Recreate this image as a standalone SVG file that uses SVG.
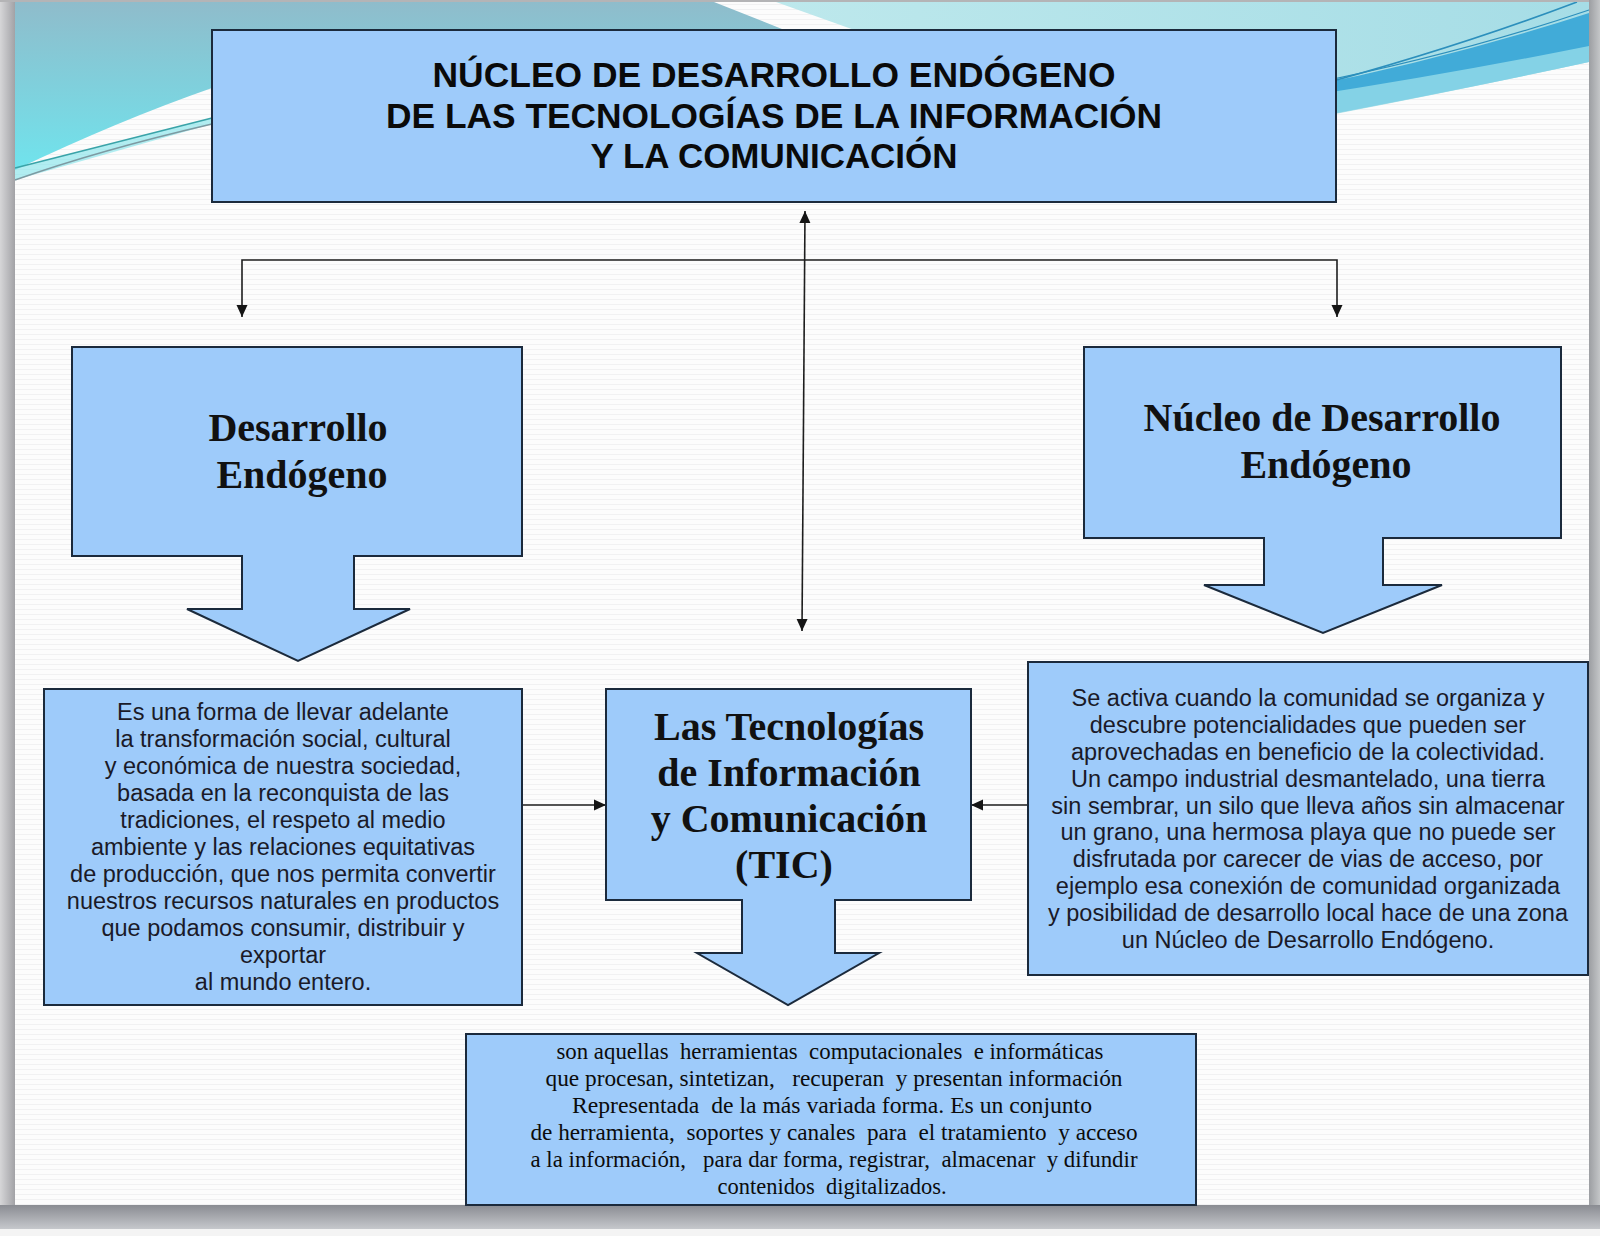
<svg xmlns="http://www.w3.org/2000/svg" width="1600" height="1236" viewBox="0 0 1600 1236">
<style>
.box{fill:#9ecbfa;stroke:#1b2a3c;stroke-width:2}
.conn{fill:none;stroke:#1e1e1e;stroke-width:1.6}
.title{font-family:"Liberation Sans",Arial,sans-serif;font-weight:bold;font-size:35px;fill:#0a0a0a;text-anchor:middle}
.head{font-family:"Liberation Serif","Times New Roman",serif;font-weight:bold;font-size:40px;fill:#111111;text-anchor:middle}
.body{font-family:"Liberation Sans",Arial,sans-serif;font-size:23.5px;fill:#1a1a28;text-anchor:middle}
.serif{font-family:"Liberation Serif","Times New Roman",serif;font-size:24px;fill:#0c0c0c;text-anchor:middle;white-space:pre}
</style>
<defs>
<marker id="ah" markerUnits="userSpaceOnUse" markerWidth="12" markerHeight="12" viewBox="0 0 12 12" refX="12" refY="6" orient="auto-start-reverse">
<path d="M0,0.5 L12,6 L0,11.5 z" fill="#151515"/>
</marker>
<linearGradient id="teal" gradientUnits="userSpaceOnUse" x1="0" y1="2" x2="0" y2="180">
<stop offset="0" stop-color="#8fbccb"/>
<stop offset="1" stop-color="#6ee6ef"/>
</linearGradient>
<linearGradient id="cyanTop" gradientUnits="userSpaceOnUse" x1="776" y1="0" x2="1589" y2="0">
<stop offset="0" stop-color="#bde8ec"/>
<stop offset="1" stop-color="#a6dde6"/>
</linearGradient>
<linearGradient id="leftGray" x1="0" y1="0" x2="1" y2="0">
<stop offset="0" stop-color="#d6d6d8"/>
<stop offset="1" stop-color="#a2a2a6"/>
</linearGradient>
<linearGradient id="rightGray" x1="0" y1="0" x2="1" y2="0">
<stop offset="0" stop-color="#9c9ea2"/>
<stop offset="1" stop-color="#c4c6c8"/>
</linearGradient>
<linearGradient id="bottomGray" x1="0" y1="0" x2="0" y2="1">
<stop offset="0" stop-color="#8a8c92"/>
<stop offset="1" stop-color="#c6c8cc"/>
</linearGradient>
<pattern id="tex" patternUnits="userSpaceOnUse" width="8" height="5">
<rect width="8" height="5" fill="#fcfcfc"/>
<rect y="4" width="8" height="1" fill="#f1f1f2"/>
</pattern>
</defs>

<g id="background">
<rect x="0" y="0" width="1600" height="1236" fill="#f2f2f2"/>
<rect x="15" y="2" width="1574" height="1203" fill="url(#tex)"/>
<path d="M15,2 H714 L792,33 L212,88 Q120,120 15,170 Z" fill="url(#teal)"/>
<path d="M776,2 H1589 V62 Q1470,88 1330,115 L860,32 Z" fill="url(#cyanTop)"/>
<path d="M1300,96 Q1450,72 1589,44 V62 Q1470,88 1300,120 Z" fill="#84d2e6"/>
<path d="M1300,88 Q1450,58 1589,13 V46 Q1450,74 1300,97 Z" fill="#41abd8"/>
<path d="M1300,90 Q1450,50 1577,2" fill="none" stroke="#2c8fbc" stroke-width="1.5"/>
<path d="M1300,86 Q1460,54 1589,10" fill="none" stroke="#2c8fbc" stroke-width="1.2"/>
<path d="M15,168 L212,118 L212,124 L15,180 Z" fill="#7fe2ea" opacity="0.6"/>
<path d="M15,168 L212,118" fill="none" stroke="#3aa3a8" stroke-width="1.5"/>
<path d="M15,180 Q100,150 212,124" fill="none" stroke="#7d9aa2" stroke-width="1.5"/>
<rect x="0" y="0" width="15" height="1230" fill="url(#leftGray)"/>
<rect x="0" y="0" width="1600" height="2" fill="#b4b4b6"/>
<rect x="1589" y="0" width="11" height="1230" fill="url(#rightGray)"/>
<rect x="0" y="1205" width="1600" height="24" fill="url(#bottomGray)"/>
<rect x="0" y="1229" width="1600" height="7" fill="#f4f4f4"/>
</g>

<g id="connectors">
<path class="conn" d="M805,211 L802,631" marker-start="url(#ah)" marker-end="url(#ah)"/>
<path class="conn" d="M242,317 V260 H1337 V317" marker-start="url(#ah)" marker-end="url(#ah)"/>
<path class="conn" d="M522,805 H606" marker-end="url(#ah)"/>
<path class="conn" d="M1028,805 H971" marker-end="url(#ah)"/>
</g>

<g id="node-title">
<rect class="box" x="212" y="30" width="1124" height="172"/>
<text class="title" x="774" y="87" textLength="683" lengthAdjust="spacingAndGlyphs">NÚCLEO DE DESARROLLO ENDÓGENO</text>
<text class="title" x="774" y="128" textLength="776" lengthAdjust="spacingAndGlyphs">DE LAS TECNOLOGÍAS DE LA INFORMACIÓN</text>
<text class="title" x="774" y="168" textLength="367" lengthAdjust="spacingAndGlyphs">Y LA COMUNICACIÓN</text>
</g>

<g id="node-desarrollo">
<path class="box" d="M72,347 H522 V556 H354 V609 H410 L298,661 L187,609 H242 V556 H72 Z"/>
<text class="head" x="298" y="441">Desarrollo</text>
<text class="head" x="302" y="488">Endógeno</text>
</g>

<g id="node-nucleo">
<path class="box" d="M1084,347 H1561 V538 H1383 V585 H1442 L1323,633 L1204,585 H1264 V538 H1084 Z"/>
<text class="head" x="1322" y="431">Núcleo de Desarrollo</text>
<text class="head" x="1326" y="478">Endógeno</text>
</g>

<g id="node-tic">
<path class="box" d="M606,689 H971 V900 H835 V953 H879 L788,1005 L697,953 H742 V900 H606 Z"/>
<text class="head" x="789" y="740">Las Tecnologías</text>
<text class="head" x="789" y="786">de Información</text>
<text class="head" x="789" y="832">y Comunicación</text>
<text class="head" x="784" y="878">(TIC)</text>
</g>

<g id="node-desarrollo-def">
<rect class="box" x="44" y="689" width="478" height="316"/>
<text class="body" x="283" y="720">Es una forma de llevar adelante</text>
<text class="body" x="283" y="747">la transformación social, cultural</text>
<text class="body" x="283" y="774">y económica de nuestra sociedad,</text>
<text class="body" x="283" y="801">basada en la reconquista de las</text>
<text class="body" x="283" y="828">tradiciones, el respeto al medio</text>
<text class="body" x="283" y="855">ambiente y las relaciones equitativas</text>
<text class="body" x="283" y="882">de producción, que nos permita convertir</text>
<text class="body" x="283" y="909">nuestros recursos naturales en productos</text>
<text class="body" x="283" y="936">que podamos consumir, distribuir y</text>
<text class="body" x="283" y="963">exportar</text>
<text class="body" x="283" y="990">al mundo entero.</text>
</g>

<g id="node-nucleo-def">
<rect class="box" x="1028" y="662" width="560" height="313"/>
<text class="body" x="1308" y="706">Se activa cuando la comunidad se organiza y</text>
<text class="body" x="1308" y="733">descubre potencialidades que pueden ser</text>
<text class="body" x="1308" y="760">aprovechadas en beneficio de la colectividad.</text>
<text class="body" x="1308" y="787">Un campo industrial desmantelado, una tierra</text>
<text class="body" x="1308" y="814">sin sembrar, un silo que lleva años sin almacenar</text>
<text class="body" x="1308" y="840">un grano, una hermosa playa que no puede ser</text>
<text class="body" x="1308" y="867">disfrutada por carecer de vias de acceso, por</text>
<text class="body" x="1308" y="894">ejemplo esa conexión de comunidad organizada</text>
<text class="body" x="1308" y="921">y posibilidad de desarrollo local hace de una zona</text>
<text class="body" x="1308" y="948">un Núcleo de Desarrollo Endógeno.</text>
</g>

<g id="node-tic-def">
<rect class="box" x="466" y="1034" width="730" height="171"/>
<text class="serif" x="830" y="1059" textLength="547" lengthAdjust="spacingAndGlyphs">son aquellas  herramientas  computacionales  e informáticas</text>
<text class="serif" x="834" y="1086" textLength="577" lengthAdjust="spacingAndGlyphs">que procesan, sintetizan,   recuperan  y presentan información</text>
<text class="serif" x="832" y="1113" textLength="520" lengthAdjust="spacingAndGlyphs">Representada  de la más variada forma. Es un conjunto</text>
<text class="serif" x="834" y="1140" textLength="607" lengthAdjust="spacingAndGlyphs">de herramienta,  soportes y canales  para  el tratamiento  y acceso</text>
<text class="serif" x="834" y="1167" textLength="607" lengthAdjust="spacingAndGlyphs">a la información,   para dar forma, registrar,  almacenar  y difundir</text>
<text class="serif" x="832" y="1194" textLength="229" lengthAdjust="spacingAndGlyphs">contenidos  digitalizados.</text>
</g>
</svg>
